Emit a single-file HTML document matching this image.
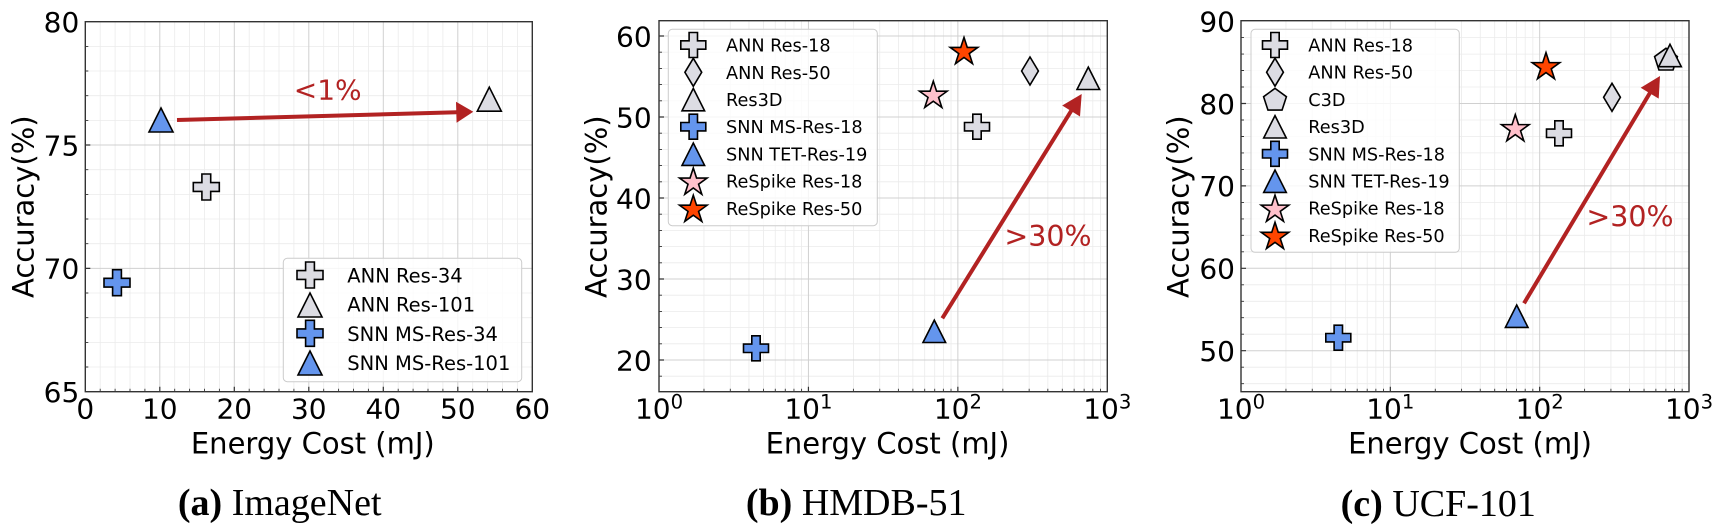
<!DOCTYPE html>
<html><head><meta charset="utf-8"><style>
html,body{margin:0;padding:0;background:#fff;}
svg{display:block;}
.t{font-family:"DejaVu Sans","Liberation Sans",sans-serif;fill:#000;}
.cap{font-family:"Liberation Serif",serif;fill:#000;font-size:38px;}
</style></head><body>
<svg width="1725" height="525" viewBox="0 0 1725 525" xmlns="http://www.w3.org/2000/svg">
<defs>
<path id="plusA" d="M-4.4,-13H4.4V-4.4H13V4.4H4.4V13H-4.4V4.4H-13V-4.4H-4.4Z"/>
<path id="plusB" d="M-4.2,-12.5H4.2V-4.2H12.5V4.2H4.2V12.5H-4.2V4.2H-12.5V-4.2H-4.2Z"/>
<path id="triA" d="M0,-12L12,12L-12,12Z"/>
<path id="triB" d="M0,-11.2L11.3,11.2L-11.3,11.2Z"/>
<path id="dia" d="M0,-14L8.4,0L0,14L-8.4,0Z"/>
<path id="pent" d="M0,-12L11.41,-3.71L7.05,9.71L-7.05,9.71L-11.41,-3.71Z"/>
<path id="star" d="M0,-14.5L3.26,-4.48L13.79,-4.48L5.27,1.71L8.52,11.73L0,5.54L-8.52,11.73L-5.27,1.71L-13.79,-4.48L-3.26,-4.48Z"/>
</defs>
<rect width="1725" height="525" fill="#fff"/>

<!-- ================= PANEL A ================= -->
<g>
<path fill="none" stroke="#ebebeb" stroke-width="0.8" d="M100.2 21.7V391.7M115.1 21.7V391.7M130 21.7V391.7M144.9 21.7V391.7M174.7 21.7V391.7M189.6 21.7V391.7M204.5 21.7V391.7M219.4 21.7V391.7M249.2 21.7V391.7M264.1 21.7V391.7M279 21.7V391.7M293.9 21.7V391.7M323.7 21.7V391.7M338.6 21.7V391.7M353.5 21.7V391.7M368.4 21.7V391.7M398.2 21.7V391.7M413.1 21.7V391.7M428 21.7V391.7M442.9 21.7V391.7M472.7 21.7V391.7M487.6 21.7V391.7M502.5 21.7V391.7M517.4 21.7V391.7
M85.3 46.4H532.3M85.3 71H532.3M85.3 95.7H532.3M85.3 120.4H532.3M85.3 169.7H532.3M85.3 194.4H532.3M85.3 219H532.3M85.3 243.7H532.3M85.3 293H532.3M85.3 317.7H532.3M85.3 342.4H532.3M85.3 367H532.3"/>
<path fill="none" stroke="#d0d0d0" stroke-width="1" d="M159.8 21.7V391.7M234.3 21.7V391.7M308.8 21.7V391.7M383.3 21.7V391.7M457.8 21.7V391.7M85.3 145H532.3M85.3 268.4H532.3"/>
<!-- ticks -->
<path fill="none" stroke="#333" stroke-width="1.2" d="M159.8 391.7v-5M234.3 391.7v-5M308.8 391.7v-5M383.3 391.7v-5M457.8 391.7v-5M85.3 145h5M85.3 268.4h5"/>
<path fill="none" stroke="#333" stroke-width="0.9" d="M100.2 391.7v-3M115.1 391.7v-3M130 391.7v-3M144.9 391.7v-3M174.7 391.7v-3M189.6 391.7v-3M204.5 391.7v-3M219.4 391.7v-3M249.2 391.7v-3M264.1 391.7v-3M279 391.7v-3M293.9 391.7v-3M323.7 391.7v-3M338.6 391.7v-3M353.5 391.7v-3M368.4 391.7v-3M398.2 391.7v-3M413.1 391.7v-3M428 391.7v-3M442.9 391.7v-3M472.7 391.7v-3M487.6 391.7v-3M502.5 391.7v-3M517.4 391.7v-3
M85.3 46.4h3M85.3 71h3M85.3 95.7h3M85.3 120.4h3M85.3 169.7h3M85.3 194.4h3M85.3 219h3M85.3 243.7h3M85.3 293h3M85.3 317.7h3M85.3 342.4h3M85.3 367h3"/>
<rect x="85.3" y="21.7" width="447" height="370" fill="none" stroke="#333" stroke-width="1.4"/>
<!-- data -->
<use href="#plusA" x="206.3" y="187" fill="#dcdce3" stroke="#000" stroke-width="1.6"/>
<use href="#plusA" x="117" y="282.7" fill="#6495ed" stroke="#000" stroke-width="1.6"/>
<use href="#triA" x="161" y="120" fill="#6495ed" stroke="#000" stroke-width="1.6"/>
<use href="#triA" x="489.3" y="99.2" fill="#dcdce3" stroke="#000" stroke-width="1.6"/>
<!-- arrow -->
<line x1="177" y1="120" x2="457" y2="112.3" stroke="#b22222" stroke-width="4"/>
<path d="M473.3,111.7L456,101.7L456.6,122.7Z" fill="#b22222"/>
<text class="t" x="327.7" y="99.3" font-size="28" text-anchor="middle" style="fill:#b22222">&lt;1%</text>
<!-- legend -->
<rect x="283.3" y="258.3" width="238.4" height="123.4" rx="4" fill="rgba(255,255,255,0.8)" stroke="#cccccc" stroke-width="1"/>
<use href="#plusA" x="310" y="275" fill="#dcdce3" stroke="#000" stroke-width="1.6"/>
<use href="#triA" x="310" y="305" fill="#dcdce3" stroke="#000" stroke-width="1.6"/>
<use href="#plusA" x="310" y="333.3" fill="#6495ed" stroke="#000" stroke-width="1.6"/>
<use href="#triA" x="310" y="363" fill="#6495ed" stroke="#000" stroke-width="1.6"/>
<g class="t" font-size="19.5">
<text x="347.3" y="282.5">ANN Res-34</text>
<text x="347.3" y="311.5">ANN Res-101</text>
<text x="347.3" y="340.8">SNN MS-Res-34</text>
<text x="347.3" y="370.2">SNN MS-Res-101</text>
</g>
<!-- tick labels -->
<g class="t" font-size="28" text-anchor="end">
<text x="79.3" y="32">80</text>
<text x="79.3" y="155.3">75</text>
<text x="79.3" y="278.7">70</text>
<text x="79.3" y="402">65</text>
</g>
<g class="t" font-size="28" text-anchor="middle">
<text x="85.3" y="418.3">0</text>
<text x="159.8" y="418.3">10</text>
<text x="234.3" y="418.3">20</text>
<text x="308.8" y="418.3">30</text>
<text x="383.3" y="418.3">40</text>
<text x="457.8" y="418.3">50</text>
<text x="532.3" y="418.3">60</text>
</g>
<text class="t" font-size="29" text-anchor="middle" x="312.8" y="453.3">Energy Cost (mJ)</text>
<text class="t" font-size="29" text-anchor="middle" transform="translate(33.3,206.7) rotate(-90)">Accuracy(%)</text>
<text class="cap" x="279.7" y="515" text-anchor="middle"><tspan font-weight="bold">(a)</tspan> ImageNet</text>
</g>

<!-- ================= PANEL B ================= -->
<g>
<path fill="none" stroke="#ebebeb" stroke-width="0.8" d="M703.98 20.7V391.7M730.3 20.7V391.7M748.97 20.7V391.7M763.45 20.7V391.7M775.28 20.7V391.7M785.28 20.7V391.7M793.95 20.7V391.7M801.59 20.7V391.7M853.41 20.7V391.7M879.73 20.7V391.7M898.4 20.7V391.7M912.88 20.7V391.7M924.71 20.7V391.7M934.71 20.7V391.7M943.38 20.7V391.7M951.02 20.7V391.7M1002.84 20.7V391.7M1029.16 20.7V391.7M1047.83 20.7V391.7M1062.31 20.7V391.7M1074.14 20.7V391.7M1084.14 20.7V391.7M1092.81 20.7V391.7M1100.45 20.7V391.7
M659 376.2H1107.3M659 343.8H1107.3M659 327.6H1107.3M659 311.4H1107.3M659 295.2H1107.3M659 262.8H1107.3M659 246.6H1107.3M659 230.4H1107.3M659 214.2H1107.3M659 181.8H1107.3M659 165.6H1107.3M659 149.4H1107.3M659 133.2H1107.3M659 100.8H1107.3M659 84.6H1107.3M659 68.4H1107.3M659 52.2H1107.3"/>
<path fill="none" stroke="#d0d0d0" stroke-width="1" d="M808.43 20.7V391.7M957.86 20.7V391.7M659 360H1107.3M659 279H1107.3M659 198H1107.3M659 117H1107.3M659 36H1107.3"/>
<path fill="none" stroke="#333" stroke-width="1.2" d="M808.43 391.7v-5M957.86 391.7v-5M659 360h5M659 279h5M659 198h5M659 117h5M659 36h5"/>
<path fill="none" stroke="#333" stroke-width="0.9" d="M703.98 391.7v-3M730.3 391.7v-3M748.97 391.7v-3M763.45 391.7v-3M775.28 391.7v-3M785.28 391.7v-3M793.95 391.7v-3M801.59 391.7v-3M853.41 391.7v-3M879.73 391.7v-3M898.4 391.7v-3M912.88 391.7v-3M924.71 391.7v-3M934.71 391.7v-3M943.38 391.7v-3M951.02 391.7v-3M1002.84 391.7v-3M1029.16 391.7v-3M1047.83 391.7v-3M1062.31 391.7v-3M1074.14 391.7v-3M1084.14 391.7v-3M1092.81 391.7v-3M1100.45 391.7v-3
M659 376.2h3M659 343.8h3M659 327.6h3M659 311.4h3M659 295.2h3M659 262.8h3M659 246.6h3M659 230.4h3M659 214.2h3M659 181.8h3M659 165.6h3M659 149.4h3M659 133.2h3M659 100.8h3M659 84.6h3M659 68.4h3M659 52.2h3"/>
<rect x="659" y="20.7" width="448.3" height="371" fill="none" stroke="#333" stroke-width="1.4"/>
<!-- data -->
<use href="#plusB" x="756" y="348.3" fill="#6495ed" stroke="#000" stroke-width="1.6"/>
<use href="#triB" x="934.3" y="331.3" fill="#6495ed" stroke="#000" stroke-width="1.6"/>
<use href="#star" x="933.3" y="95.7" fill="#ffc0cb" stroke="#000" stroke-width="1.6"/>
<use href="#star" x="964" y="51.9" fill="#ff4500" stroke="#000" stroke-width="1.6"/>
<use href="#plusB" x="977" y="126.7" fill="#dcdce3" stroke="#000" stroke-width="1.6"/>
<use href="#dia" x="1030" y="71" fill="#dcdce3" stroke="#000" stroke-width="1.6"/>
<use href="#triB" x="1088.3" y="78.3" fill="#dcdce3" stroke="#000" stroke-width="1.6"/>
<!-- arrow -->
<line x1="942.3" y1="318.3" x2="1072" y2="109.6" stroke="#b22222" stroke-width="4"/>
<path d="M1081.7,94L1080,116.5L1062.2,105.5Z" fill="#b22222"/>
<text class="t" x="1048" y="246" font-size="28.5" text-anchor="middle" style="fill:#b22222">&gt;30%</text>
<!-- legend -->
<rect x="668.3" y="29.3" width="209" height="196.4" rx="4" fill="rgba(255,255,255,0.8)" stroke="#cccccc" stroke-width="1"/>
<use href="#plusB" x="693.3" y="45" fill="#dcdce3" stroke="#000" stroke-width="1.6"/>
<use href="#dia" x="693.3" y="72.3" fill="#dcdce3" stroke="#000" stroke-width="1.6"/>
<use href="#triB" x="693.3" y="99.6" fill="#dcdce3" stroke="#000" stroke-width="1.6"/>
<use href="#plusB" x="693.3" y="126.7" fill="#6495ed" stroke="#000" stroke-width="1.6"/>
<use href="#triB" x="693.3" y="154.2" fill="#6495ed" stroke="#000" stroke-width="1.6"/>
<use href="#star" x="693.3" y="182.5" fill="#ffc0cb" stroke="#000" stroke-width="1.6"/>
<use href="#star" x="693.3" y="209.7" fill="#ff4500" stroke="#000" stroke-width="1.6"/>
<g class="t" font-size="17.7">
<text x="726" y="51.5">ANN Res-18</text>
<text x="726" y="78.8">ANN Res-50</text>
<text x="726" y="105.8">Res3D</text>
<text x="726" y="133.2">SNN MS-Res-18</text>
<text x="726" y="160.5">SNN TET-Res-19</text>
<text x="726" y="187.5">ReSpike Res-18</text>
<text x="726" y="214.8">ReSpike Res-50</text>
</g>
<g class="t" font-size="28" text-anchor="end">
<text x="651.7" y="46.3">60</text>
<text x="651.7" y="127.3">50</text>
<text x="651.7" y="208.3">40</text>
<text x="651.7" y="289.3">30</text>
<text x="651.7" y="370.3">20</text>
</g>
<g class="t" font-size="28" text-anchor="middle">
<text x="659" y="418.3">10<tspan font-size="19.6" dy="-10">0</tspan></text>
<text x="808.4" y="418.3">10<tspan font-size="19.6" dy="-10">1</tspan></text>
<text x="957.9" y="418.3">10<tspan font-size="19.6" dy="-10">2</tspan></text>
<text x="1107.3" y="418.3">10<tspan font-size="19.6" dy="-10">3</tspan></text>
</g>
<text class="t" font-size="29" text-anchor="middle" x="887.5" y="453.3">Energy Cost (mJ)</text>
<text class="t" font-size="29" text-anchor="middle" transform="translate(606.7,206.7) rotate(-90)">Accuracy(%)</text>
<text class="cap" x="856.2" y="515" text-anchor="middle"><tspan font-weight="bold">(b)</tspan> HMDB-51</text>
</g>

<!-- ================= PANEL C ================= -->
<g>
<path fill="none" stroke="#ebebeb" stroke-width="0.8" d="M1285.95 20.7V391.7M1312.25 20.7V391.7M1330.91 20.7V391.7M1345.38 20.7V391.7M1357.2 20.7V391.7M1367.2 20.7V391.7M1375.86 20.7V391.7M1383.5 20.7V391.7M1435.28 20.7V391.7M1461.58 20.7V391.7M1480.24 20.7V391.7M1494.71 20.7V391.7M1506.53 20.7V391.7M1516.53 20.7V391.7M1525.19 20.7V391.7M1532.83 20.7V391.7M1584.62 20.7V391.7M1610.92 20.7V391.7M1629.58 20.7V391.7M1644.05 20.7V391.7M1655.87 20.7V391.7M1665.87 20.7V391.7M1674.53 20.7V391.7M1682.17 20.7V391.7
M1241 383.7H1689M1241 367.2H1689M1241 334.2H1689M1241 317.7H1689M1241 301.3H1689M1241 284.8H1689M1241 251.8H1689M1241 235.3H1689M1241 218.9H1689M1241 202.4H1689M1241 169.4H1689M1241 152.9H1689M1241 136.5H1689M1241 120H1689M1241 87H1689M1241 70.5H1689M1241 54.1H1689M1241 37.6H1689"/>
<path fill="none" stroke="#d0d0d0" stroke-width="1" d="M1390.33 20.7V391.7M1539.67 20.7V391.7M1241 350.7H1689M1241 268.3H1689M1241 185.9H1689M1241 103.5H1689"/>
<path fill="none" stroke="#333" stroke-width="1.2" d="M1390.33 391.7v-5M1539.67 391.7v-5M1241 350.7h5M1241 268.3h5M1241 185.9h5M1241 103.5h5"/>
<path fill="none" stroke="#333" stroke-width="0.9" d="M1285.95 391.7v-3M1312.25 391.7v-3M1330.91 391.7v-3M1345.38 391.7v-3M1357.2 391.7v-3M1367.2 391.7v-3M1375.86 391.7v-3M1383.5 391.7v-3M1435.28 391.7v-3M1461.58 391.7v-3M1480.24 391.7v-3M1494.71 391.7v-3M1506.53 391.7v-3M1516.53 391.7v-3M1525.19 391.7v-3M1532.83 391.7v-3M1584.62 391.7v-3M1610.92 391.7v-3M1629.58 391.7v-3M1644.05 391.7v-3M1655.87 391.7v-3M1665.87 391.7v-3M1674.53 391.7v-3M1682.17 391.7v-3
M1241 383.7h3M1241 367.2h3M1241 334.2h3M1241 317.7h3M1241 301.3h3M1241 284.8h3M1241 251.8h3M1241 235.3h3M1241 218.9h3M1241 202.4h3M1241 169.4h3M1241 152.9h3M1241 136.5h3M1241 120h3M1241 87h3M1241 70.5h3M1241 54.1h3M1241 37.6h3"/>
<rect x="1241" y="20.7" width="448" height="371" fill="none" stroke="#333" stroke-width="1.4"/>
<!-- data -->
<use href="#plusB" x="1338.3" y="337.7" fill="#6495ed" stroke="#000" stroke-width="1.6"/>
<use href="#triB" x="1516.7" y="316.2" fill="#6495ed" stroke="#000" stroke-width="1.6"/>
<use href="#star" x="1515.3" y="129.1" fill="#ffc0cb" stroke="#000" stroke-width="1.6"/>
<use href="#star" x="1546" y="67.1" fill="#ff4500" stroke="#000" stroke-width="1.6"/>
<use href="#plusB" x="1559" y="133.3" fill="#dcdce3" stroke="#000" stroke-width="1.6"/>
<use href="#dia" x="1612" y="97.3" fill="#dcdce3" stroke="#000" stroke-width="1.6"/>
<use href="#pent" x="1666" y="60.3" fill="#dcdce3" stroke="#000" stroke-width="1.6"/>
<use href="#triB" x="1670" y="55.5" fill="#dcdce3" stroke="#000" stroke-width="1.6"/>
<!-- arrow -->
<line x1="1524" y1="303.3" x2="1650.7" y2="91.6" stroke="#b22222" stroke-width="4"/>
<path d="M1660,76L1658.7,98.6L1640.7,87.8Z" fill="#b22222"/>
<text class="t" x="1630" y="226.7" font-size="28.5" text-anchor="middle" style="fill:#b22222">&gt;30%</text>
<!-- legend -->
<rect x="1251" y="29.3" width="208.3" height="223" rx="4" fill="rgba(255,255,255,0.8)" stroke="#cccccc" stroke-width="1"/>
<use href="#plusB" x="1275" y="45" fill="#dcdce3" stroke="#000" stroke-width="1.6"/>
<use href="#dia" x="1275" y="72.2" fill="#dcdce3" stroke="#000" stroke-width="1.6"/>
<use href="#pent" x="1275" y="100.4" fill="#dcdce3" stroke="#000" stroke-width="1.6"/>
<use href="#triB" x="1275" y="126.8" fill="#dcdce3" stroke="#000" stroke-width="1.6"/>
<use href="#plusB" x="1275" y="153.8" fill="#6495ed" stroke="#000" stroke-width="1.6"/>
<use href="#triB" x="1275" y="181.2" fill="#6495ed" stroke="#000" stroke-width="1.6"/>
<use href="#star" x="1275" y="209.6" fill="#ffc0cb" stroke="#000" stroke-width="1.6"/>
<use href="#star" x="1275" y="236.8" fill="#ff4500" stroke="#000" stroke-width="1.6"/>
<g class="t" font-size="17.7">
<text x="1308.3" y="51.5">ANN Res-18</text>
<text x="1308.3" y="78.7">ANN Res-50</text>
<text x="1308.3" y="105.9">C3D</text>
<text x="1308.3" y="133.1">Res3D</text>
<text x="1308.3" y="160.3">SNN MS-Res-18</text>
<text x="1308.3" y="187.5">SNN TET-Res-19</text>
<text x="1308.3" y="214.7">ReSpike Res-18</text>
<text x="1308.3" y="241.9">ReSpike Res-50</text>
</g>
<g class="t" font-size="28" text-anchor="end">
<text x="1235" y="31.4">90</text>
<text x="1235" y="113.8">80</text>
<text x="1235" y="196.2">70</text>
<text x="1235" y="278.6">60</text>
<text x="1235" y="361">50</text>
</g>
<g class="t" font-size="28" text-anchor="middle">
<text x="1241" y="418.3">10<tspan font-size="19.6" dy="-10">0</tspan></text>
<text x="1390.3" y="418.3">10<tspan font-size="19.6" dy="-10">1</tspan></text>
<text x="1539.7" y="418.3">10<tspan font-size="19.6" dy="-10">2</tspan></text>
<text x="1689" y="418.3">10<tspan font-size="19.6" dy="-10">3</tspan></text>
</g>
<text class="t" font-size="29" text-anchor="middle" x="1470" y="453.3">Energy Cost (mJ)</text>
<text class="t" font-size="29" text-anchor="middle" transform="translate(1188.7,206.7) rotate(-90)">Accuracy(%)</text>
<text class="cap" x="1438.3" y="516" text-anchor="middle"><tspan font-weight="bold">(c)</tspan> UCF-101</text>
</g>
</svg>
</body></html>
